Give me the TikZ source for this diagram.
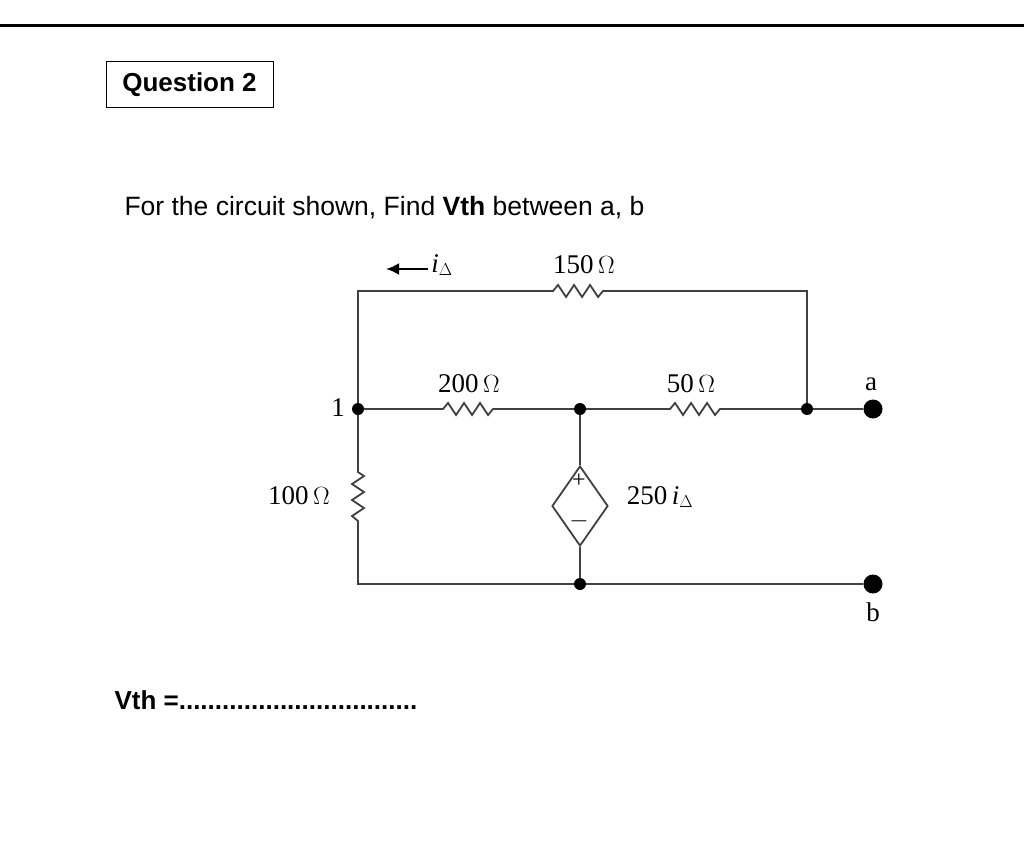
\documentclass[tikz,border=0pt]{standalone}
\usepackage{fontspec}
\setmainfont{Liberation Sans}
\newfontfamily\ser{Liberation Serif}
\usetikzlibrary{arrows.meta,shapes.geometric}
\begin{document}
\begin{tikzpicture}[x=1pt,y=-1pt,
  w/.style={line width=1.8pt,black!75},
  dot/.style={circle,fill=black,inner sep=0,minimum size=12pt},
  term/.style={circle,fill=black,inner sep=0,minimum size=19pt},
  lab/.style={font=\ser\fontsize{27}{27}\selectfont},
  res/.style={w}]
\useasboundingbox (0,0) rectangle (1024,840);
\draw[line width=3pt] (0,26) -- (1024,26);
\node[draw,line width=1pt,minimum width=167pt,minimum height=46pt,font=\fontsize{26}{26}\selectfont\bfseries] (q) at (189.5,85) {Question 2};
\node[anchor=west,font=\fontsize{26.5}{26.5}\selectfont] (t) at (121,208) {For the circuit shown, Find \textbf{Vth} between a, b};
\node[anchor=west,font=\fontsize{26}{26}\selectfont] (v) at (111,700) {\textbf{Vth =.................................}};
% nodes
\coordinate (tl) at (358,291); \coordinate (tr) at (807,291);
\node[dot] (n1) at (358,409) {};
\node[dot] (nm) at (580,409) {};
\node[dot] (nr) at (807,409) {};
\node[term] (a) at (873,409) {};
\node[dot] (nb) at (580,584) {};
\node[term] (b) at (873,584) {};
\coordinate (bl) at (358,584);
\node[diamond,draw,w,minimum width=56pt,minimum height=80pt,inner sep=0] (src) at (580,506) {};
\node[font=\ser\fontsize{24}{24}\selectfont] (pl) at (579,481) {+};
\node[font=\ser\fontsize{24}{24}\selectfont] (mi) at (579,521) {$-$};
% wires with zigzags
\draw[w] (n1) -- (tl) -- (553,291) -- (558,285) -- (566,297) -- (574,285) -- (582,297) -- (590,285) -- (598,297) -- (603,291) -- (tr) -- (nr);
\draw[w] (n1) -- (443,409) -- (448,403) -- (456,415) -- (464,403) -- (472,415) -- (480,403) -- (488,415) -- (493,409) -- (nm);
\draw[w] (nm) -- (670,409) -- (675,403) -- (683,415) -- (691,403) -- (699,415) -- (707,403) -- (715,415) -- (720,409) -- (nr) -- (a);
\draw[w] (n1) -- (358,472) -- (364,476) -- (352,484) -- (364,492) -- (352,500) -- (364,508) -- (352,516) -- (358,521) -- (bl) -- (nb) -- (b);
\draw[w] (nm) -- (src.north); \draw[w] (src.south) -- (nb);
% labels
\node[lab] (l150) at (584,265) {150\,$\Omega$};
\node[lab] (l200) at (469,384) {200\,$\Omega$};
\node[lab] (l50) at (691,384) {50\,$\Omega$};
\node[lab] (l100) at (299,496) {100\,$\Omega$};
\node[lab] (l250) at (660,497) {250\,\textit{i}$_\Delta$};
\node[lab] (l1) at (338,408) {1};
\node[lab] (la) at (871,384) {a};
\node[lab] (lb) at (873,612) {b};
\node[lab] (lid) at (442,265) {\textit{i}$_\Delta$};
\coordinate (ia1) at (428,269); \coordinate (ia2) at (386,269);
\draw[line width=2.4pt,-{Latex[length=13pt,width=12pt]}] (ia1) -- (ia2);
\end{tikzpicture}
\end{document}
